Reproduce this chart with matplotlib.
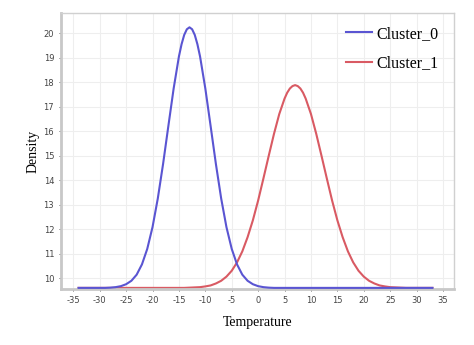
import numpy as np
import matplotlib.pyplot as plt

plt.rcParams['axes.unicode_minus'] = False

# temperature points (deg), denser around each peak
temp_0 = list(range(-34, -14)) + [-14.5, -14, -13.5, -13, -12.5, -12, -11.5] + list(range(-11, 34))
temp_1 = list(range(-34, 6)) + [5.5, 6, 6.5, 7, 7.5, 8, 8.5] + list(range(9, 34))

# Cluster_0 density
cluster_0 = ([9.60] * 6 + [9.61, 9.63, 9.67, 9.75, 9.89, 10.14, 10.56, 11.19, 12.08,
              13.25, 14.66, 16.21, 17.74, 19.05]
             + [19.55, 19.93, 20.16, 20.24, 20.16, 19.93, 19.55]
             + [19.05, 17.74, 16.21, 14.66, 13.25, 12.08, 11.19, 10.56, 10.14, 9.89,
                9.75, 9.67, 9.63, 9.61] + [9.60] * 31)

# Cluster_1 density
cluster_1 = ([9.60] * 21 + [9.61, 9.62, 9.63, 9.66, 9.70, 9.78, 9.89, 10.06, 10.30,
                            10.64, 11.09, 11.67, 12.36, 13.17, 14.07, 14.99, 15.89,
                            16.70, 17.33]
             + [17.57, 17.74, 17.84, 17.88, 17.84, 17.74, 17.57]
             + [17.33, 16.70, 15.89, 14.99, 14.07, 13.17, 12.36, 11.67, 11.09, 10.64,
                10.30, 10.06, 9.89, 9.78, 9.70, 9.66, 9.63, 9.62, 9.61] + [9.60] * 6)

xticks = list(range(-35, 36, 5))
yticks = list(range(10, 21))

fig = plt.figure(figsize=(4.74, 3.45), dpi=100)
ax = fig.add_axes([0.129, 0.162, 0.829, 0.800])

line1, = ax.plot(temp_0, cluster_0, color='#5a55d2', lw=1.5, zorder=3)
line2, = ax.plot(temp_1, cluster_1, color='#d95a63', lw=1.5, zorder=2)

ax.set_xlim(-37.3, 37.1)
ax.set_ylim(9.55, 20.82)
ax.set_xticks(xticks)
ax.set_yticks(yticks)
ax.tick_params(labelsize=6, colors='#444444', length=1.5, width=0.6)
ax.grid(True, color='#eeeeee', lw=0.8)
ax.set_axisbelow(True)

for s in ['top', 'right']:
    ax.spines[s].set_color('#d0d0d0')
    ax.spines[s].set_linewidth(1.0)
for s in ['left', 'bottom']:
    ax.spines[s].set_color('#c8c8c8')
    ax.spines[s].set_linewidth(2.0)

ax.set_xlabel('Temperature', family='Liberation Serif', fontsize=10, labelpad=8)
ax.set_ylabel('Density', family='Liberation Serif', fontsize=10, labelpad=3)

fig.legend(handles=[line1, line2], labels=['Cluster_0', 'Cluster_1'],
           loc='upper left', bbox_to_anchor=(0.70, 0.967), frameon=False,
           prop={'family': 'Liberation Serif', 'size': 11.5},
           handlelength=1.6, handletextpad=0.3, labelspacing=0.85)

fig.savefig('out.png', dpi=100)
